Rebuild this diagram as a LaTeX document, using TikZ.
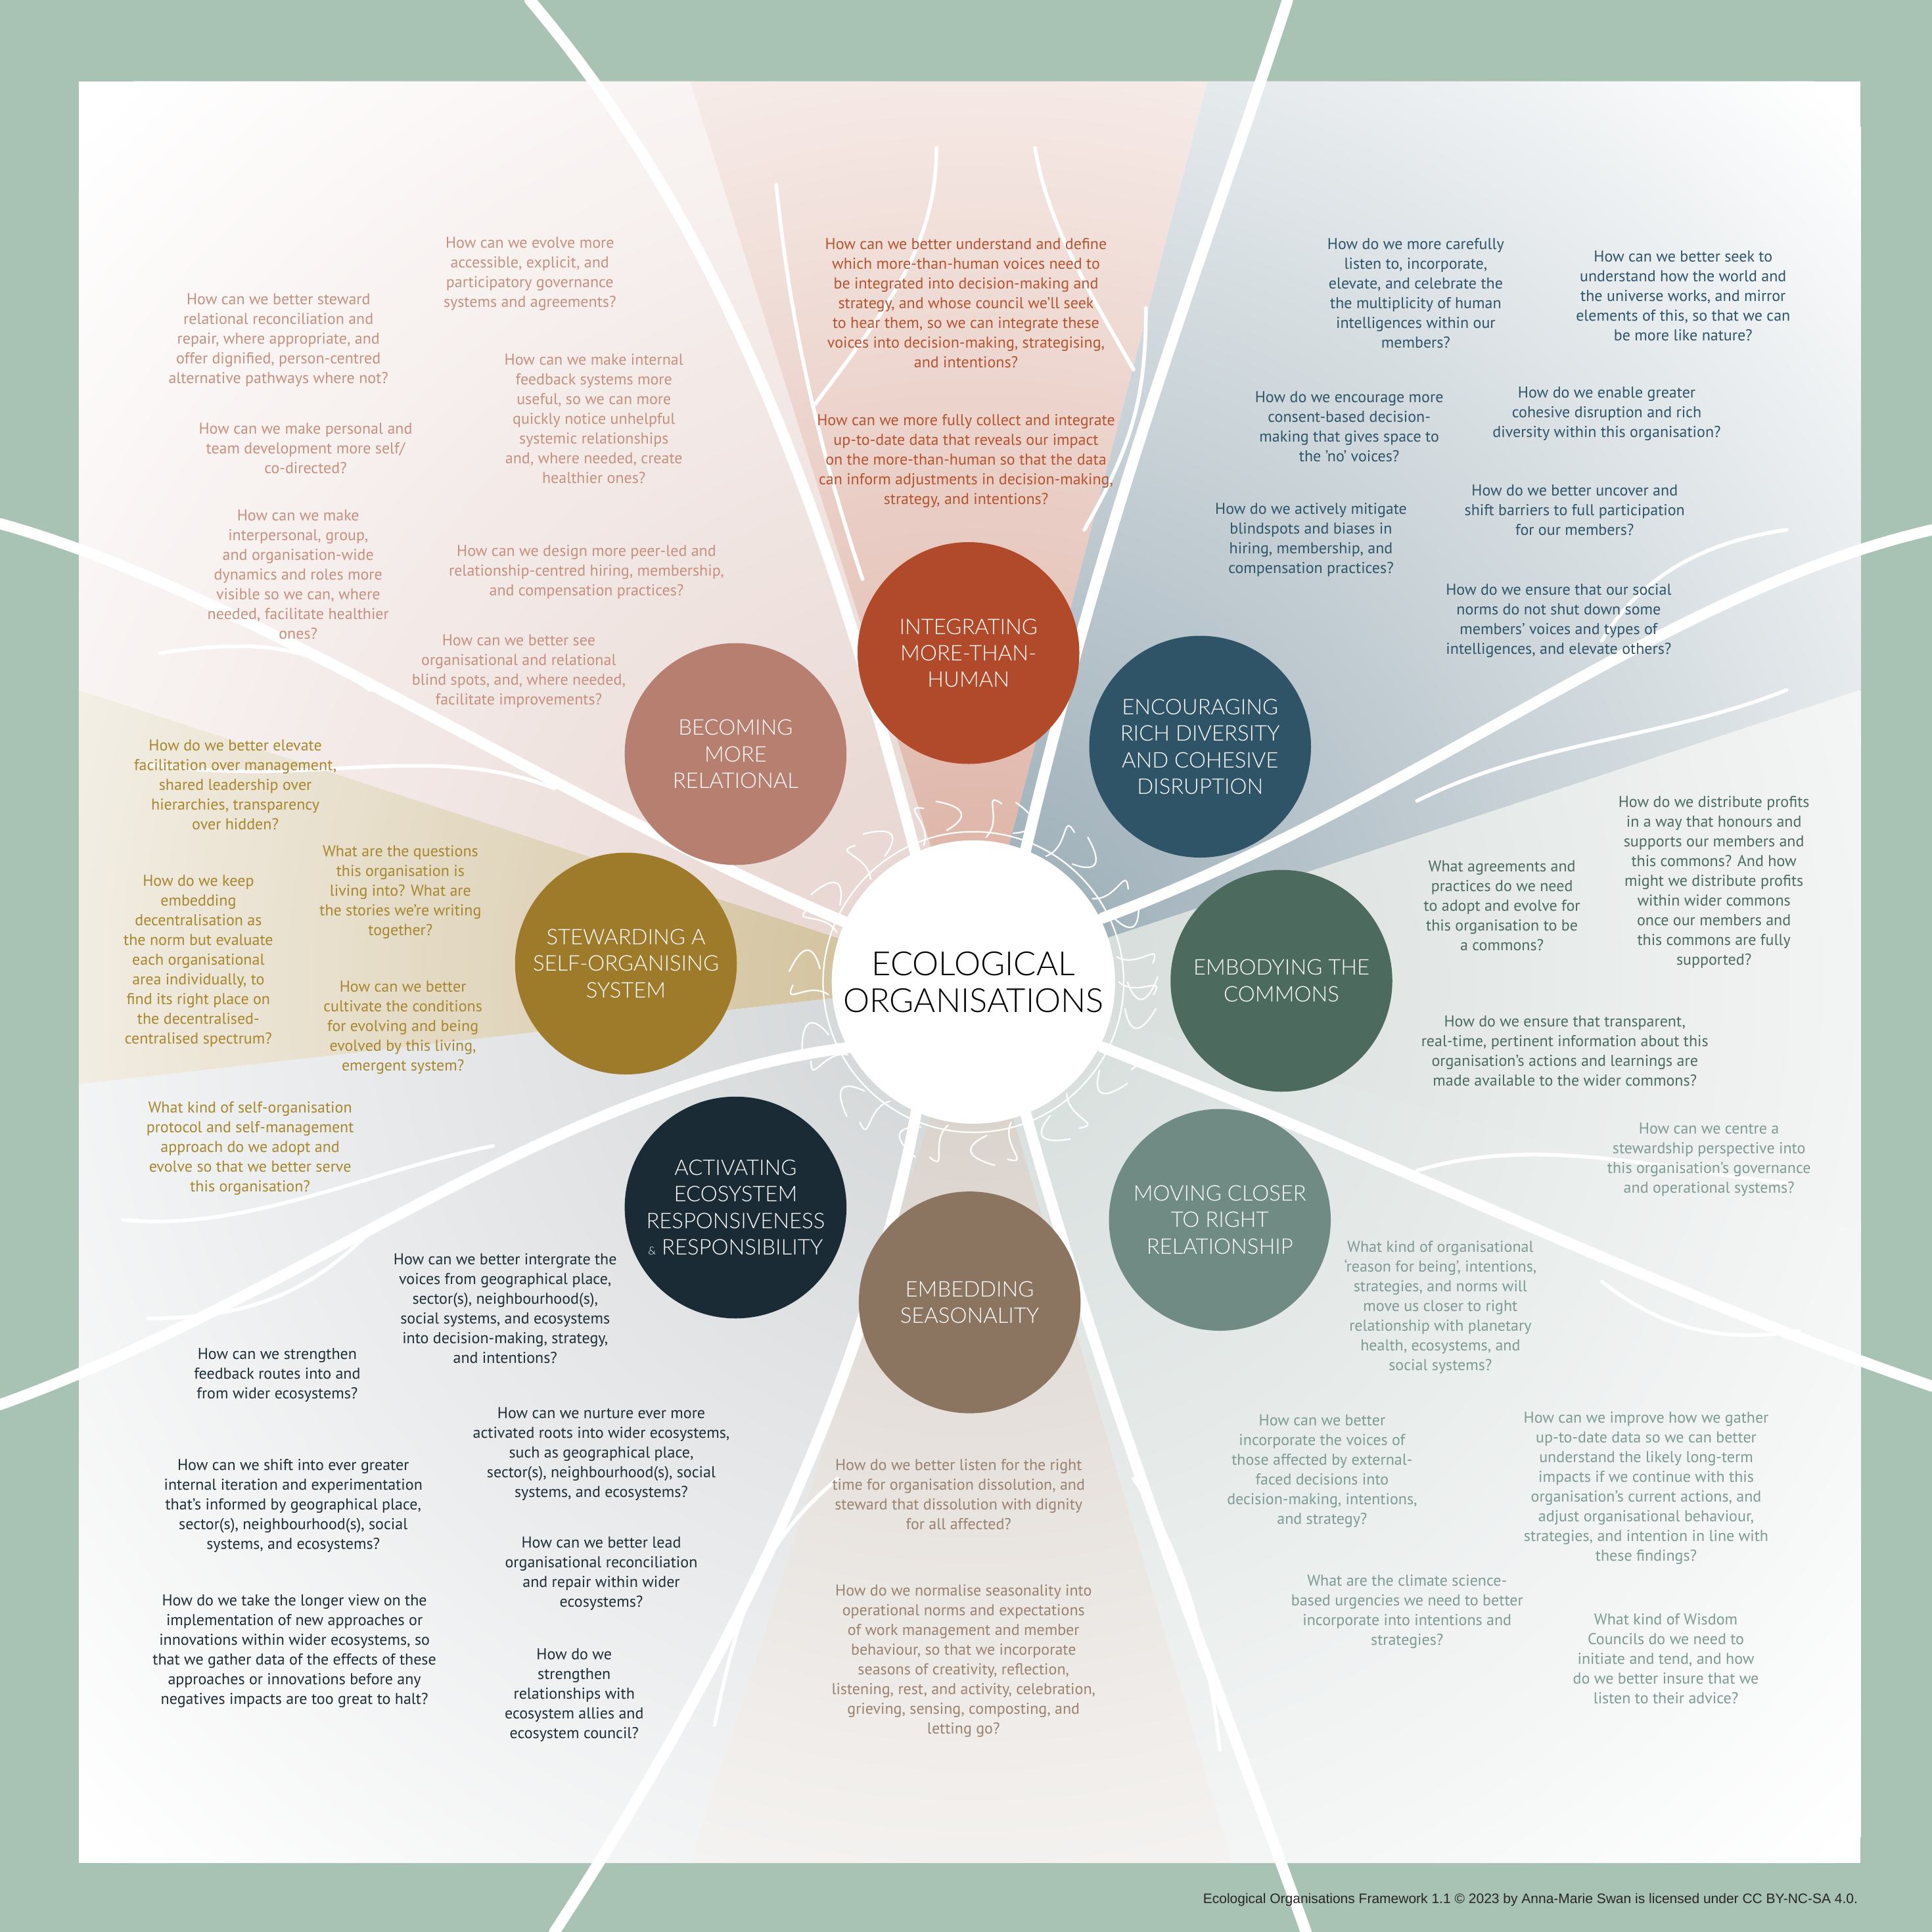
\documentclass[tikz,border=0pt]{standalone}
\usepackage{fontspec}
\setmainfont{PT Sans}
\newfontfamily\titlefont{Lato Light}
\newfontfamily\footfont{Liberation Sans}
\definecolor{bggreen}{HTML}{A8C2B3}
\definecolor{cInt}{HTML}{B04A2B}
\definecolor{cEnc}{HTML}{2F5468}
\definecolor{cEmb}{HTML}{4C6B5E}
\definecolor{cMov}{HTML}{6F8B84}
\definecolor{cSea}{HTML}{8C7560}
\definecolor{cAct}{HTML}{1B2B35}
\definecolor{cSte}{HTML}{9E7A2B}
\definecolor{cRel}{HTML}{B77F70}
\definecolor{tInt}{HTML}{B5532F}
\definecolor{tEnc}{HTML}{2F5468}
\definecolor{tEmb}{HTML}{4D6A5F}
\definecolor{tMov}{HTML}{7F9994}
\definecolor{tSea}{HTML}{9A8270}
\definecolor{tAct}{HTML}{1F2E36}
\definecolor{tSte}{HTML}{A6862F}
\definecolor{tRel}{HTML}{C4907F}
\tikzset{
 q/.style={align=center,font=\fontsize{12.8}{16}\selectfont,inner sep=0pt},
 disc/.style={circle,minimum size=180pt,inner sep=0pt,text=white,align=center,font=\titlefont\fontsize{17.5}{21.5}\selectfont},
 trunk/.style={white,line width=9pt,line cap=round},
 twig/.style={white,line width=3pt,line cap=round},
 hair/.style={white,line width=1.2pt,line cap=round},
}
\newcommand\sectorfill[2]{\begin{scope}\clip #2; \shade[inner color=#1,outer color=white] (790,797) circle (1000);\end{scope}}
\begin{document}
\begin{tikzpicture}[x=1pt,y=-1pt]
\useasboundingbox (0,0) rectangle (1568,1568);
\fill[bggreen] (0,0) rectangle (1568,1568);
\fill[white] (64,66) rectangle (1510,1512);
\begin{scope}
\clip (64,66) rectangle (1510,1512);
\sectorfill{cInt!45!white}{(790,797) -- (560,66) -- (980,66) -- cycle}
\sectorfill{cEnc!50!white}{(790,797) -- (980,66) -- (1510,66) -- (1510,560) -- cycle}
\sectorfill{cEmb!25!white}{(790,797) -- (1510,560) -- (1510,1000) -- cycle}
\sectorfill{cMov!30!white}{(790,797) -- (1510,1000) -- (1510,1512) -- (1000,1512) -- cycle}
\sectorfill{cSea!35!white}{(790,797) -- (1000,1512) -- (560,1512) -- cycle}
\sectorfill{cAct!20!white}{(790,797) -- (560,1512) -- (64,1512) -- (64,880) -- cycle}
\sectorfill{cSte!50!white}{(790,797) -- (64,880) -- (64,560) -- cycle}
\sectorfill{cRel!35!white}{(790,797) -- (64,560) -- (64,66) -- (560,66) -- cycle}
\end{scope}
% branches
\draw[trunk] (745,700) .. controls (680,450) and (600,200) .. (430,0);
\draw[trunk] (830,700) .. controls (900,400) and (980,200) .. (1045,0);
\draw[trunk] (690,750) .. controls (450,650) and (200,480) .. (0,425);
\draw[trunk] (895,745) .. controls (1150,650) and (1350,480) .. (1568,430);
\draw[trunk] (690,850) .. controls (450,880) and (250,1050) .. (0,1140);
\draw[trunk] (895,850) .. controls (1150,950) and (1350,1050) .. (1568,1125);
\draw[trunk] (745,895) .. controls (700,1150) and (560,1400) .. (450,1568);
\draw[trunk] (830,895) .. controls (900,1150) and (1000,1400) .. (1060,1568);
\draw[twig] (700,470) .. controls (660,350) and (640,250) .. (630,150);
\draw[twig] (660,330) .. controls (720,250) and (760,200) .. (760,120);
\draw[twig] (880,430) .. controls (920,360) and (930,320) .. (930,250);
\draw[twig] (920,300) .. controls (880,230) and (850,180) .. (840,120);
\draw[twig] (450,640) .. controls (350,600) and (250,640) .. (120,620);
\draw[twig] (300,560) .. controls (250,520) and (200,520) .. (130,530);
\draw[twig] (1150,650) .. controls (1250,600) and (1350,600) .. (1450,560);
\draw[twig] (1300,520) .. controls (1330,470) and (1380,440) .. (1450,430);
\draw[twig] (400,930) .. controls (300,950) and (200,1000) .. (100,990);
\draw[twig] (300,1000) .. controls (250,1050) and (200,1070) .. (120,1070);
\draw[twig] (1150,950) .. controls (1250,920) and (1350,950) .. (1450,960);
\draw[twig] (1300,1040) .. controls (1350,1080) and (1400,1090) .. (1460,1080);
\draw[twig] (680,1200) .. controls (620,1250) and (600,1300) .. (580,1400);
\draw[twig] (920,1200) .. controls (960,1260) and (980,1330) .. (990,1420);
\foreach \a in {0,25,...,355}{
 \draw[hair] (790,797) ++(\a:118) .. controls +(\a+40:20) and +(\a-60:20) .. ++(\a+20:30);
 \draw[hair] (790,797) ++(\a+10:125) .. controls +(\a+80:25) and +(\a+120:20) .. ++(\a:25);
}
\draw[hair] (790,797) circle (122);
% circles
\node[circle,fill=white,minimum size=230pt] (c) at (790,797) {};
\node[align=center,font=\titlefont\fontsize{27}{30}\selectfont,text=black] at (c) {ECOLOGICAL\\ORGANISATIONS};
\node[disc,fill=cInt] (int) at (786,530) {INTEGRATING\\MORE-THAN-\\HUMAN};
\node[disc,fill=cEnc] (enc) at (974,606) {ENCOURAGING\\RICH DIVERSITY\\AND COHESIVE\\DISRUPTION};
\node[disc,fill=cEmb] (emb) at (1040,796) {EMBODYING THE\\COMMONS};
\node[disc,fill=cMov] (mov) at (990,990) {MOVING CLOSER\\TO RIGHT\\RELATIONSHIP};
\node[disc,fill=cSea] (sea) at (787,1057) {EMBEDDING\\SEASONALITY};
\node[disc,fill=cAct] (act) at (597,980) {ACTIVATING\\ECOSYSTEM\\RESPONSIVENESS\\{\small\&} RESPONSIBILITY};
\node[disc,fill=cSte] (ste) at (508,782) {STEWARDING A\\SELF-ORGANISING\\SYSTEM};
\node[disc,fill=cRel] (rel) at (597,612) {BECOMING\\MORE\\RELATIONAL};
% Integrating
\begin{scope}[every node/.append style={q,text=tInt}]
\node (i1) at (784,246) {How can we better understand and define\\which more-than-human voices need to\\be integrated into decision-making and\\strategy, and whose council we'll seek\\to hear them, so we can integrate these\\voices into decision-making, strategising,\\and intentions?};
\node (i2) at (784,374) {How can we more fully collect and integrate\\up-to-date data that reveals our impact\\on the more-than-human so that the data\\can inform adjustments in decision-making,\\strategy, and intentions?};
\end{scope}
\begin{scope}[every node/.append style={q,text=tEnc}]
\node (e1) at (1149,238) {How do we more carefully\\listen to, incorporate,\\elevate, and celebrate the\\the multiplicity of human\\intelligences within our\\members?};
\node (e2) at (1366,240) {How can we better seek to\\understand how the world and\\the universe works, and mirror\\elements of this, so that we can\\be more like nature?};
\node (e3) at (1095,346) {How do we encourage more\\consent-based decision-\\making that gives space to\\the 'no' voices?};
\node (e4) at (1304,336) {How do we enable greater\\cohesive disruption and rich\\diversity within this organisation?};
\node (e5) at (1064,438) {How do we actively mitigate\\blindspots and biases in\\hiring, membership, and\\compensation practices?};
\node (e6) at (1278,414) {How do we better uncover and\\shift barriers to full participation\\for our members?};
\node (e7) at (1265,504) {How do we ensure that our social\\norms do not shut down some\\members' voices and types of\\intelligences, and elevate others?};
\end{scope}
\begin{scope}[every node/.append style={q,text=tEmb}]
\node (m1) at (1391,716) {How do we distribute profits\\in a way that honours and\\supports our members and\\this commons? And how\\might we distribute profits\\within wider commons\\once our members and\\this commons are fully\\supported?};
\node (m2) at (1219,735) {What agreements and\\practices do we need\\to adopt and evolve for\\this organisation to be\\a commons?};
\node (m3) at (1270,853) {How do we ensure that transparent,\\real-time, pertinent information about this\\organisation's actions and learnings are\\made available to the wider commons?};
\end{scope}
\begin{scope}[every node/.append style={q,text=tMov}]
\node (r1) at (1387,941) {How can we centre a\\stewardship perspective into\\this organisation's governance\\and operational systems?};
\node (r2) at (1169,1061) {What kind of organisational\\`reason for being', intentions,\\strategies, and norms will\\move us closer to right\\relationship with planetary\\health, ecosystems, and\\social systems?};
\node (r3) at (1073,1194) {How can we better\\incorporate the voices of\\those affected by external-\\faced decisions into\\decision-making, intentions,\\and strategy?};
\node (r4) at (1336,1208) {How can we improve how we gather\\up-to-date data so we can better\\understand the likely long-term\\impacts if we continue with this\\organisation's current actions, and\\adjust organisational behaviour,\\strategies, and intention in line with\\these findings?};
\node (r5) at (1142,1308) {What are the climate science-\\based urgencies we need to better\\incorporate into intentions and\\strategies?};
\node (r6) at (1352,1346) {What kind of Wisdom\\Councils do we need to\\initiate and tend, and how\\do we better insure that we\\listen to their advice?};
\end{scope}
\begin{scope}[every node/.append style={q,text=tSea}]
\node (s1) at (778,1213) {How do we better listen for the right\\time for organisation dissolution, and\\steward that dissolution with dignity\\for all affected?};
\node (s2) at (782,1348) {How do we normalise seasonality into\\operational norms and expectations\\of work management and member\\behaviour, so that we incorporate\\seasons of creativity, reflection,\\listening, rest, and activity, celebration,\\grieving, sensing, composting, and\\letting go?};
\end{scope}
\begin{scope}[every node/.append style={q,text=tAct}]
\node (a1) at (410,1062) {How can we better intergrate the\\voices from geographical place,\\sector(s), neighbourhood(s),\\social systems, and ecosystems\\into decision-making, strategy,\\and intentions?};
\node (a2) at (225,1116) {How can we strengthen\\feedback routes into and\\from wider ecosystems?};
\node (a3) at (488,1180) {How can we nurture ever more\\activated roots into wider ecosystems,\\such as geographical place,\\sector(s), neighbourhood(s), social\\systems, and ecosystems?};
\node (a4) at (238,1222) {How can we shift into ever greater\\internal iteration and experimentation\\that's informed by geographical place,\\sector(s), neighbourhood(s), social\\systems, and ecosystems?};
\node (a5) at (488,1277) {How can we better lead\\organisational reconciliation\\and repair within wider\\ecosystems?};
\node (a6) at (239,1340) {How do we take the longer view on the\\implementation of new approaches or\\innovations within wider ecosystems, so\\that we gather data of the effects of these\\approaches or innovations before any\\negatives impacts are too great to halt?};
\node (a7) at (466,1376) {How do we\\strengthen\\relationships with\\ecosystem allies and\\ecosystem council?};
\end{scope}
\begin{scope}[every node/.append style={q,text=tSte}]
\node (t1) at (191,637) {How do we better elevate\\facilitation over management,\\shared leadership over\\hierarchies, transparency\\over hidden?};
\node (t2) at (325,724) {What are the questions\\this organisation is\\living into? What are\\the stories we're writing\\together?};
\node (t3) at (161,780) {How do we keep\\embedding\\decentralisation as\\the norm but evaluate\\each organisational\\area individually, to\\find its right place on\\the decentralised-\\centralised spectrum?};
\node (t4) at (327,834) {How can we better\\cultivate the conditions\\for evolving and being\\evolved by this living,\\emergent system?};
\node (t5) at (203,932) {What kind of self-organisation\\protocol and self-management\\approach do we adopt and\\evolve so that we better serve\\this organisation?};
\end{scope}
\begin{scope}[every node/.append style={q,text=tRel}]
\node (b1) at (430,222) {How can we evolve more\\accessible, explicit, and\\participatory governance\\systems and agreements?};
\node (b2) at (226,276) {How can we better steward\\relational reconciliation and\\repair, where appropriate, and\\offer dignified, person-centred\\alternative pathways where not?};
\node (b3) at (482,340) {How can we make internal\\feedback systems more\\useful, so we can more\\quickly notice unhelpful\\systemic relationships\\and, where needed, create\\healthier ones?};
\node (b4) at (248,364) {How can we make personal and\\team development more self/\\co-directed?};
\node (b5) at (242,466) {How can we make\\interpersonal, group,\\and organisation-wide\\dynamics and roles more\\visible so we can, where\\needed, facilitate healthier\\ones?};
\node (b6) at (476,464) {How can we design more peer-led and\\relationship-centred hiring, membership,\\and compensation practices?};
\node (b7) at (421,545) {How can we better see\\organisational and relational\\blind spots, and, where needed,\\facilitate improvements?};
\end{scope}
\node[anchor=east,inner sep=0pt,font=\footfont\fontsize{11.2}{13}\selectfont,text=black!85] (foot) at (1508,1542) {Ecological Organisations Framework 1.1 © 2023 by Anna-Marie Swan is licensed under CC BY-NC-SA 4.0.};
\end{tikzpicture}
\end{document}
